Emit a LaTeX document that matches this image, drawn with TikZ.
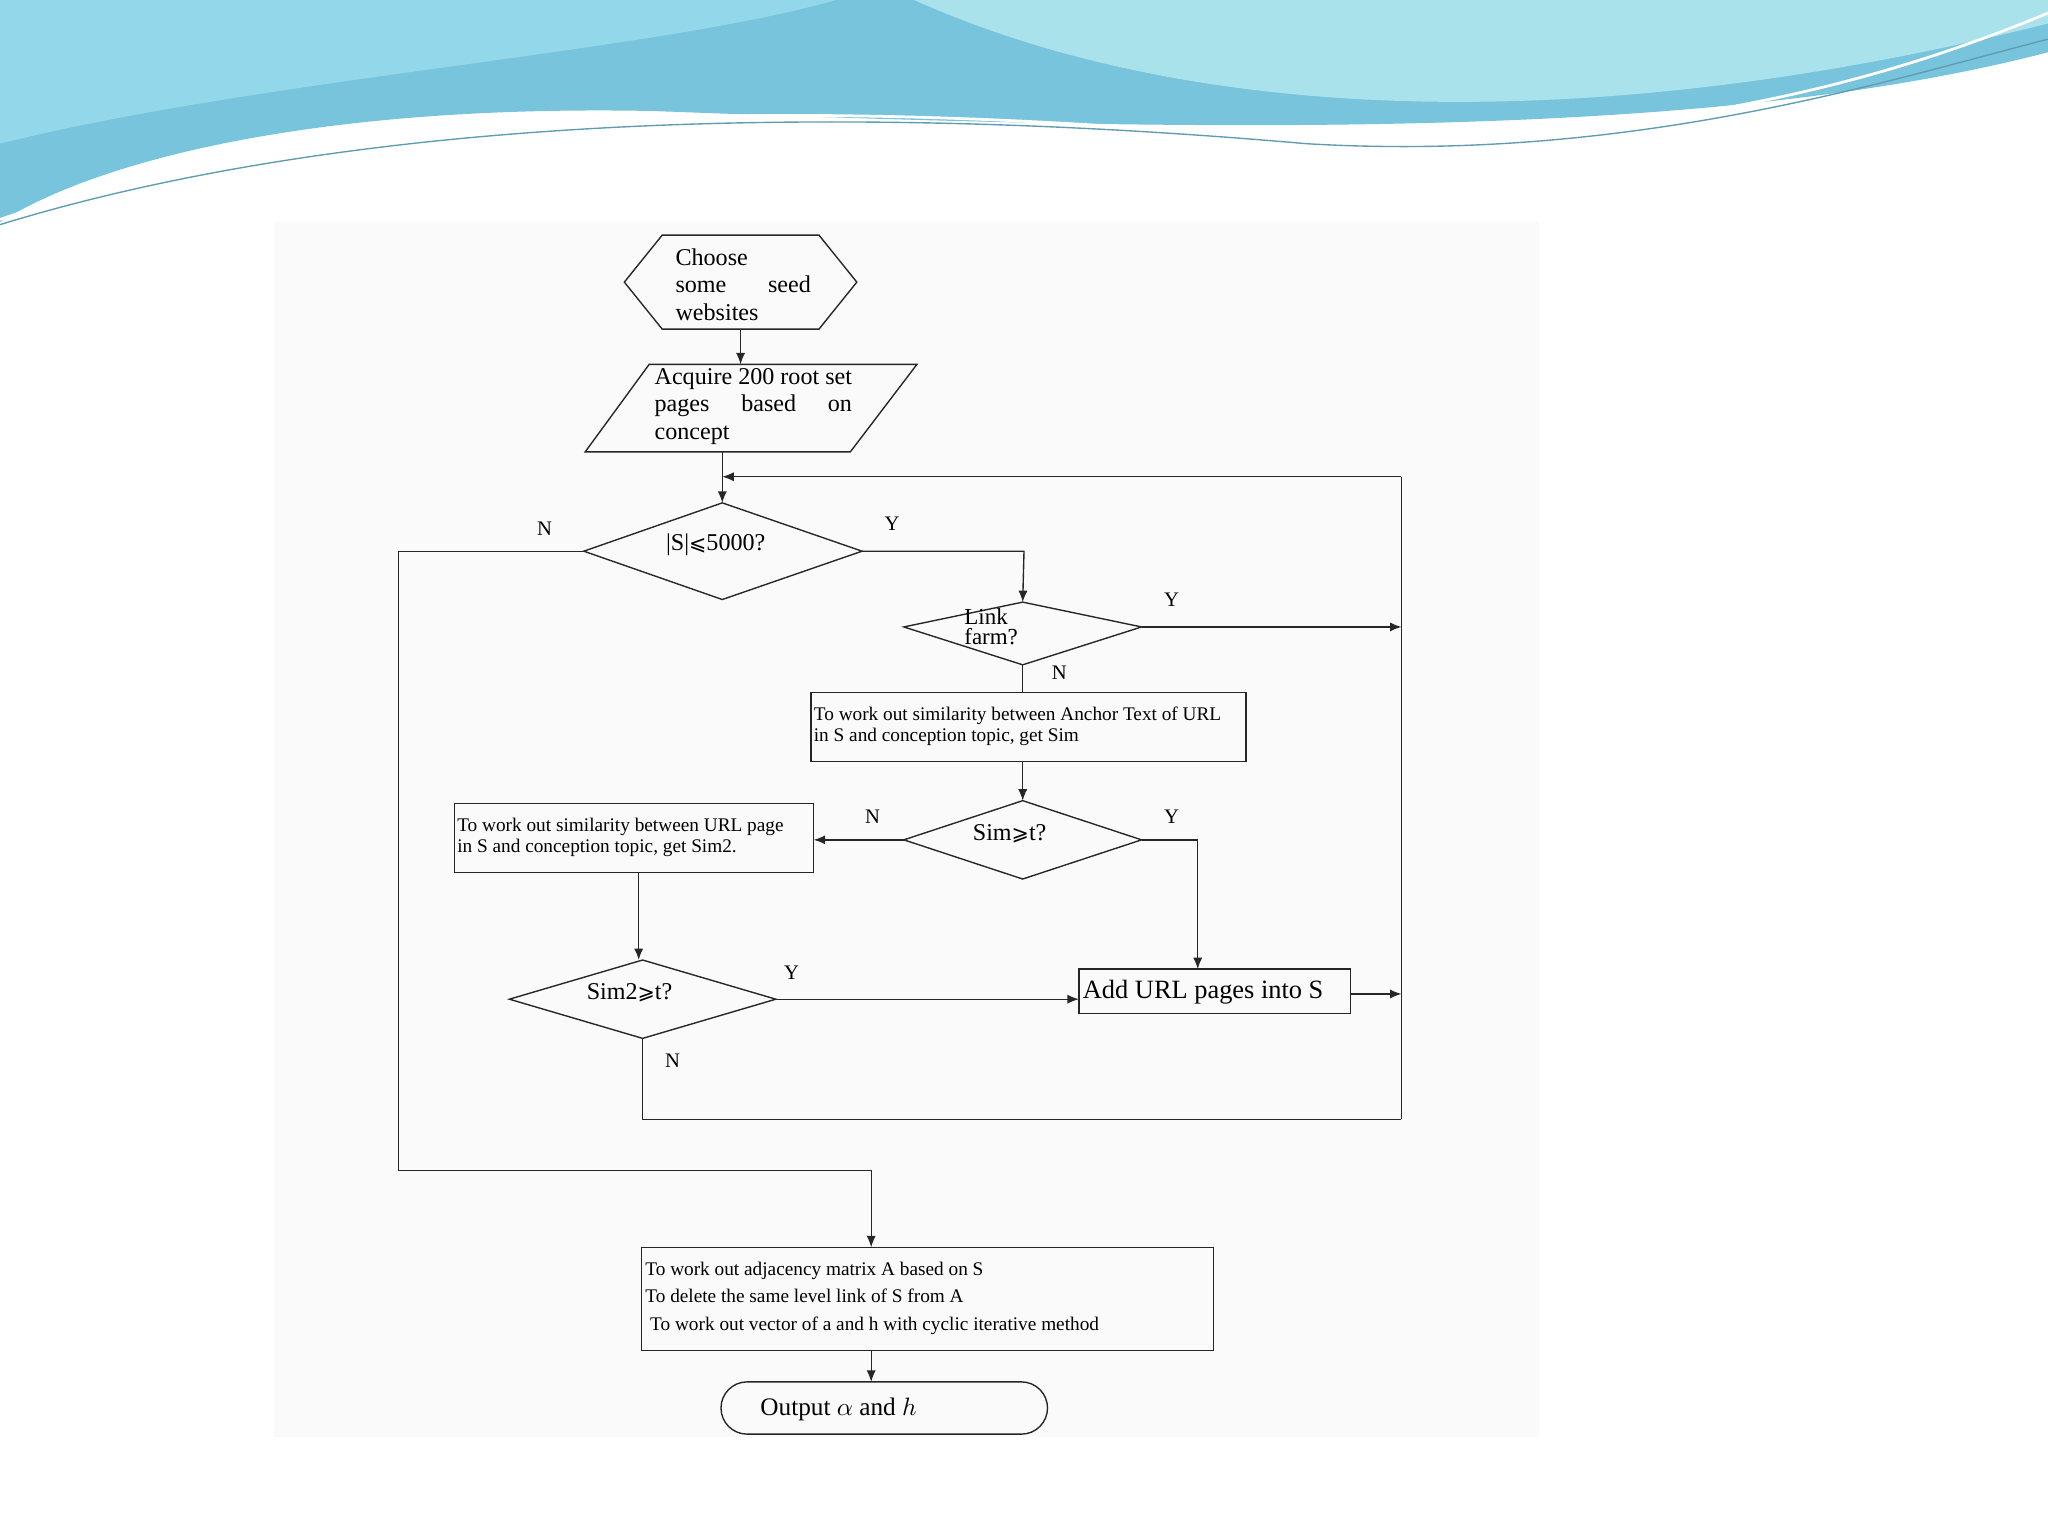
\documentclass[tikz,border=0pt]{standalone}
\usepackage{fontspec}
\setmainfont{Liberation Serif}
\newfontfamily\symf{DejaVu Sans}
\usetikzlibrary{arrows.meta}
\definecolor{bannerA}{RGB}{120,196,220}
\definecolor{bannerB}{RGB}{170,226,236}
\definecolor{bannerC}{RGB}{100,200,225}
\begin{document}
\begin{tikzpicture}[x=0.02cm,y=-0.02cm,
  ln/.style={draw=black!85,line width=0.6pt},
  ar/.style={ln,-{Latex[length=5pt,width=4pt]}},
  lab/.style={font=\fontsize{9}{10}\selectfont},
  dia/.style={font=\fontsize{10.5}{11}\selectfont},
  small/.style={font=\fontsize{8.4}{9}\selectfont,anchor=west,align=left,inner sep=1pt},
  big/.style={font=\fontsize{10.5}{12}\selectfont,anchor=west,align=left}]
\useasboundingbox (0,0) rectangle (1568,1176);
\fill[white] (0,0) rectangle (1568,1176);
% banner
\fill[bannerA] (0,0) -- (1568,0) -- (1568,40) .. controls (1300,110) and (900,100) .. (500,85) .. controls (250,80) and (80,120) .. (0,170) -- cycle;
\fill[bannerB] (700,0) .. controls (900,90) and (1200,110) .. (1568,18) -- (1568,0) -- cycle;
\fill[bannerC!70!white] (0,0) -- (640,0) .. controls (500,40) and (200,60) .. (0,110) -- cycle;
\draw[white,line width=1.2pt] (0,168) .. controls (200,100) and (500,70) .. (900,100) .. controls (1200,120) and (1400,80) .. (1568,10);
\draw[bannerA!80!black,line width=0.6pt] (0,172) .. controls (250,95) and (600,75) .. (1000,110) .. controls (1250,125) and (1450,60) .. (1568,30);
\fill[black!2] (210,170) rectangle (1178,1100);
% hexagon
\draw[ln] (478,216) -- (507,180) -- (627,180) -- (656,216) -- (627,252) -- (507,252) -- cycle;
\node[big] (hex) at (511,218) {Choose\\ \makebox[59pt][s]{some\hfill seed}\\ websites};
\coordinate (hexb) at (567,252);
% parallelogram
\draw[ln] (448,346) -- (497,279) -- (702,279) -- (651,346) -- cycle;
\node[big] (par) at (495,311) {Acquire 200 root set\\ \makebox[86pt][s]{pages\hfill based\hfill on}\\ concept};
\coordinate (part) at (567,279);
\coordinate (parb) at (553,346);
\draw[ar] (hexb) -- (part);
% diamond 1
\draw[ln] (447,422) -- (553,385) -- (660,422) -- (553,459) -- cycle;
\node[dia] (d1) at (548,417) {|S|{\symf\fontsize{9}{9}\selectfont ⩽}5000?};
\coordinate (d1t) at (553,385); \coordinate (d1l) at (447,422); \coordinate (d1r) at (660,422);
\draw[ar] (parb) -- (d1t);
\coordinate (rt) at (1073,365); \coordinate (rb) at (1073,857);
\draw[ln] (rb) -- (rt);
\draw[ar] (rt) -- (553,365);
\node[lab] (n1) at (417,405) {N};
\node[lab] (y1) at (683,401) {Y};
% diamond 2
\draw[ln] (692,480) -- (783,461) -- (874,480) -- (783,509) -- cycle;
\node[font=\fontsize{10}{10}\selectfont,anchor=west,inner sep=0pt] (d2a) at (738,472) {Link};
\node[font=\fontsize{10}{10}\selectfont,anchor=west,inner sep=0pt] (d2b2) at (738,487) {farm?};
\coordinate (d2t) at (783,461); \coordinate (d2r) at (874,480); \coordinate (d2b) at (783,509);
\draw[ar] (d1r) -- (784,422) -- (d2t);
\draw[ar] (d2r) -- (1073,480);
\node[lab] (y2) at (897,459) {Y};
\node[lab] (n2) at (811,515) {N};
% box1
\draw[ln] (621,530) rectangle (954,583);
\node[small] (b1) at (621,556) {To work out similarity between Anchor Text of URL\\in S and conception topic, get Sim};
\draw[ln] (d2b) -- (783,530);
% diamond3
\draw[ln] (692,643) -- (783,613) -- (874,643) -- (783,673) -- cycle;
\node[dia] (d3) at (773,638) {Sim{\symf\fontsize{9}{9}\selectfont ⩾}t?};
\draw[ar] (783,583) -- (783,613);
\node[lab] (n3) at (668,625) {N};
\node[lab] (y3) at (897,625) {Y};
% box2
\draw[ln] (348,615) rectangle (623,668);
\node[small] (b2) at (348,641) {To work out similarity between URL page\\in S and conception topic, get Sim2.};
\draw[ar] (692,643) -- (623,643);
% box3
\draw[ln] (826,742) rectangle (1034,776);
\node[dia,anchor=west,font=\fontsize{11.5}{12}\selectfont,inner sep=1pt] (b3) at (827,760) {Add URL pages into S};
\draw[ar] (874,643) -- (917,643) -- (917,742);
\draw[ar] (1034,761) -- (1073,761);
% diamond4
\draw[ln] (390,765) -- (492,735) -- (594,765) -- (492,795) -- cycle;
\node[dia] (d4) at (482,760) {Sim2{\symf\fontsize{9}{9}\selectfont ⩾}t?};
\draw[ar] (489,668) -- (489,735);
\draw[ar] (594,765) -- (826,765);
\node[lab] (y4) at (606,745) {Y};
\node[lab] (n4) at (515,812) {N};
\draw[ln] (492,795) -- (492,857) -- (rb);
% N path
\draw[ar] (d1l) -- (305,422) -- (305,896) -- (667,896) -- (667,955);
% box4
\draw[ln] (491,955) rectangle (929,1034);
\node[small,font=\fontsize{8.4}{12}\selectfont] (b4) at (492,994) {To work out adjacency matrix A based on S\\To delete the same level link of S from A\\\ To work out vector of a and h with cyclic iterative method};
\draw[ar] (667,1034) -- (667,1058);
\draw[ln,rounded corners=20*0.02cm] (552,1058) rectangle (802,1098);
\node[dia,font=\fontsize{11}{12}\selectfont] (out) at (642,1079) {Output $\alpha$ and $h$};
\end{tikzpicture}
\end{document}
